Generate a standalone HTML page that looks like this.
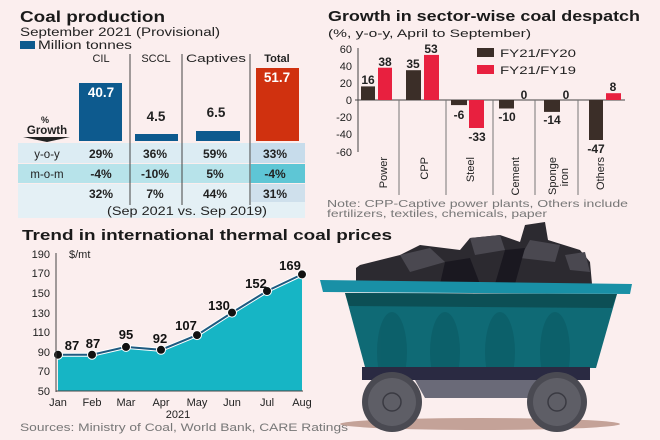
<!DOCTYPE html>
<html><head><meta charset="utf-8"><style>
html,body{margin:0;padding:0;background:#fbeeee;}
svg{display:block;font-family:"Liberation Sans",sans-serif;}
</style></head><body>
<svg width="660" height="440" viewBox="0 0 660 440" xmlns="http://www.w3.org/2000/svg">
<rect width="660" height="440" fill="#fbeeee"/>
<!-- LEFT TOP -->
<text x="20" y="22" font-size="16" font-weight="bold" fill="#1a1a1a" textLength="145" lengthAdjust="spacingAndGlyphs">Coal production</text>
<text x="20" y="36" font-size="11.5" fill="#222" textLength="200" lengthAdjust="spacingAndGlyphs">September 2021 (Provisional)</text>
<rect x="20" y="41" width="15" height="8" fill="#0d5a8e"/>
<text x="38" y="49" font-size="11.5" fill="#222" textLength="94" lengthAdjust="spacingAndGlyphs">Million tonnes</text>
<g font-size="11" fill="#222" text-anchor="middle">
<text x="101" y="62">CIL</text><text x="156" y="62">SCCL</text><text x="216" y="62" textLength="60" lengthAdjust="spacingAndGlyphs">Captives</text>
<text x="277" y="62" font-weight="bold">Total</text></g>
<rect x="18" y="143" width="287" height="20" fill="#dcecf3"/>
<rect x="251" y="143" width="54" height="20" fill="#c7dceb"/>
<rect x="18" y="164" width="287" height="19" fill="#b7e3ea"/>
<rect x="251" y="164" width="54" height="19" fill="#5ec6d5"/>
<rect x="18" y="184" width="287" height="34" fill="#e4f0f5"/>
<rect x="251" y="184" width="54" height="18" fill="#cfe0ec"/>
<g stroke="#444" stroke-width="1"><line x1="130" y1="54" x2="130" y2="205"/><line x1="182" y1="54" x2="182" y2="205"/><line x1="250" y1="54" x2="250" y2="205"/></g>
<rect x="79" y="83" width="43" height="58" fill="#0d5a8e"/>
<rect x="135" y="134" width="43" height="7" fill="#0d5a8e"/>
<rect x="196" y="131" width="44" height="10" fill="#0d5a8e"/>
<rect x="256" y="68" width="43" height="73" fill="#d0310f"/>
<g font-size="13.5" font-weight="bold" text-anchor="middle">
<text x="101" y="97" fill="#fff">40.7</text><text x="156" y="121" fill="#222">4.5</text>
<text x="216" y="117" fill="#222">6.5</text><text x="277" y="82" fill="#fff">51.7</text></g>
<text x="45" y="123" font-size="9" font-weight="bold" text-anchor="middle" fill="#222">%</text>
<text x="47" y="134" font-size="11.5" font-weight="bold" text-anchor="middle" fill="#222">Growth</text>
<path d="M23 137 L70 137 L47 142 Z" fill="#222"/>
<g font-size="11.5" fill="#222" text-anchor="middle"><text x="47" y="158">y-o-y</text><text x="47" y="178">m-o-m</text></g>
<g font-size="12" font-weight="bold" fill="#222" text-anchor="middle">
<text x="101" y="158">29%</text><text x="155" y="158">36%</text><text x="215" y="158">59%</text><text x="275" y="158">33%</text>
<text x="101" y="178">-4%</text><text x="155" y="178">-10%</text><text x="215" y="178">5%</text><text x="275" y="178">-4%</text>
<text x="101" y="198">32%</text><text x="155" y="198">7%</text><text x="215" y="198">44%</text><text x="275" y="198">31%</text></g>
<text x="187" y="215" font-size="11.5" fill="#222" text-anchor="middle" textLength="160" lengthAdjust="spacingAndGlyphs">(Sep 2021 vs. Sep 2019)</text>
<!-- RIGHT TOP -->
<text x="328" y="21" font-size="15" font-weight="bold" fill="#1a1a1a" textLength="312" lengthAdjust="spacingAndGlyphs">Growth in sector-wise coal despatch</text>
<text x="328" y="37" font-size="11" fill="#222" textLength="203" lengthAdjust="spacingAndGlyphs">(%, y-o-y, April to September)</text>
<g font-size="11" fill="#222" text-anchor="end">
<text x="352" y="53">60</text><text x="352" y="70">40</text><text x="352" y="87">20</text><text x="352" y="104">0</text>
<text x="352" y="121">-20</text><text x="352" y="138">-40</text><text x="352" y="156">-60</text></g>
<line x1="358" y1="48" x2="358" y2="152" stroke="#444"/>
<line x1="355" y1="100" x2="625" y2="100" stroke="#444"/>
<g stroke="#777"><line x1="399" y1="100" x2="399" y2="195"/><line x1="446" y1="100" x2="446" y2="195"/><line x1="493" y1="100" x2="493" y2="195"/><line x1="535" y1="100" x2="535" y2="195"/><line x1="578" y1="100" x2="578" y2="195"/></g>
<g fill="#3b2e28"><rect x="361" y="86.4" width="14" height="13.6"/><rect x="406" y="70.2" width="15" height="29.8"/>
<rect x="451" y="100" width="16" height="5.1"/><rect x="499" y="100" width="15" height="8.5"/><rect x="544" y="100" width="16" height="11.9"/><rect x="589" y="100" width="14" height="40"/></g>
<g fill="#e8203f"><rect x="378" y="67.7" width="14" height="32.3"/><rect x="424" y="54.9" width="15" height="45.1"/>
<rect x="469" y="100" width="15" height="28"/><rect x="606" y="93.2" width="15" height="6.8"/></g>
<g font-size="12" font-weight="bold" fill="#222" text-anchor="middle">
<text x="368" y="84">16</text><text x="385" y="66">38</text><text x="413" y="68">35</text><text x="431" y="53">53</text>
<text x="459" y="119">-6</text><text x="477" y="141">-33</text><text x="507" y="121">-10</text><text x="524" y="99">0</text>
<text x="552" y="124">-14</text><text x="566" y="99">0</text><text x="596" y="153">-47</text><text x="613" y="91">8</text></g>
<rect x="477" y="48" width="17" height="9" fill="#3b2e28"/><text x="500" y="57" font-size="11" fill="#222" textLength="76" lengthAdjust="spacingAndGlyphs">FY21/FY20</text>
<rect x="477" y="65" width="17" height="9" fill="#e8203f"/><text x="500" y="74" font-size="11" fill="#222" textLength="76" lengthAdjust="spacingAndGlyphs">FY21/FY19</text>
<g font-size="11" fill="#222" text-anchor="end">
<text transform="translate(387,157) rotate(-90)">Power</text>
<text transform="translate(428,157) rotate(-90)">CPP</text>
<text transform="translate(474,157) rotate(-90)">Steel</text>
<text transform="translate(519,157) rotate(-90)">Cement</text>
<text transform="translate(556,157) rotate(-90)">Sponge</text>
<text transform="translate(568,168) rotate(-90)">iron</text>
<text transform="translate(604,157) rotate(-90)">Others</text></g>
<text x="327" y="207" font-size="10.5" fill="#777" textLength="301" lengthAdjust="spacingAndGlyphs">Note: CPP-Captive power plants, Others include</text>
<text x="327" y="217" font-size="10.5" fill="#777" textLength="220" lengthAdjust="spacingAndGlyphs">fertilizers, textiles, chemicals, paper</text>
<!-- BOTTOM LEFT -->
<text x="22" y="240" font-size="15" font-weight="bold" fill="#1a1a1a" textLength="370" lengthAdjust="spacingAndGlyphs">Trend in international thermal coal prices</text>
<g font-size="11" fill="#222" text-anchor="end">
<text x="50" y="258">190</text><text x="50" y="277">170</text><text x="50" y="297">150</text><text x="50" y="317">130</text>
<text x="50" y="336">110</text><text x="50" y="356">90</text><text x="50" y="375">70</text><text x="50" y="395">50</text></g>
<text x="69" y="258" font-size="11" fill="#222">$/mt</text>
<path d="M58 354.7 L92 354.7 L126 346.9 L161 349.8 L197 335.1 L232 312.6 L267 291 L302 274.4 L302 391 L58 391 Z" fill="#16b5c5"/>
<polyline points="58,354.7 92,354.7 126,346.9 161,349.8 197,335.1 232,312.6 267,291 302,274.4" fill="none" stroke="#fff" stroke-width="4"/>
<polyline points="58,354.7 92,354.7 126,346.9 161,349.8 197,335.1 232,312.6 267,291 302,274.4" fill="none" stroke="#1e5a80" stroke-width="2"/>
<g fill="#111" stroke="#fff" stroke-width="1"><circle cx="58" cy="354.7" r="4.5"/><circle cx="92" cy="354.7" r="4.5"/><circle cx="126" cy="346.9" r="4.5"/><circle cx="161" cy="349.8" r="4.5"/><circle cx="197" cy="335.1" r="4.5"/><circle cx="232" cy="312.6" r="4.5"/><circle cx="267" cy="291" r="4.5"/><circle cx="302" cy="274.4" r="4.5"/></g>
<line x1="56" y1="253" x2="56" y2="392" stroke="#444"/>
<line x1="56" y1="391" x2="303" y2="391" stroke="#444"/>
<g font-size="13" font-weight="bold" fill="#111" text-anchor="middle">
<text x="72" y="350">87</text><text x="93" y="348">87</text><text x="126" y="339">95</text><text x="160" y="343">92</text>
<text x="186" y="330">107</text><text x="219" y="310">130</text><text x="256" y="288">152</text><text x="290" y="270">169</text></g>
<g font-size="11" fill="#222" text-anchor="middle">
<text x="58" y="406">Jan</text><text x="92" y="406">Feb</text><text x="126" y="406">Mar</text><text x="161" y="406">Apr</text>
<text x="197" y="406">May</text><text x="232" y="406">Jun</text><text x="267" y="406">Jul</text><text x="302" y="406">Aug</text>
<text x="178" y="418">2021</text></g>
<text x="20" y="431" font-size="11" fill="#777" textLength="328" lengthAdjust="spacingAndGlyphs">Sources: Ministry of Coal, World Bank, CARE Ratings</text>
<!-- CART -->
<ellipse cx="480" cy="424" rx="140" ry="6" fill="#c4a298"/>
<g fill="#2c2a30">
<polygon points="356,268 360,265 400,255 420,245 460,250 470,238 500,235 520,242 525,225 545,222 548,240 580,250 590,262 592,284 356,284"/>
</g>
<g fill="#4a4850"><polygon points="400,255 430,248 445,262 410,272"/><polygon points="470,238 500,235 505,250 475,255"/><polygon points="530,240 560,245 555,262 520,258"/><polygon points="565,255 585,252 590,272 570,270"/></g>
<g fill="#1a1820"><polygon points="445,262 470,258 480,284 440,284"/><polygon points="505,250 525,248 515,284 495,284"/></g>
<polygon points="320,280 632,284 630,294 323,292" fill="#1990a6"/>
<polygon points="345,293 617,294 596,368 365,367" fill="#0f6a75"/>
<polygon points="345,293 617,294 612,308 349,306" fill="#0c4f55"/>
<g fill="#0c5e68" opacity="0.8"><ellipse cx="392" cy="352" rx="15" ry="40"/><ellipse cx="445" cy="352" rx="15" ry="40"/><ellipse cx="500" cy="352" rx="15" ry="40"/><ellipse cx="555" cy="352" rx="15" ry="40"/></g>
<rect x="362" y="367" width="228" height="13" fill="#2a2a42"/>
<polygon points="415,380 540,380 530,398 425,398" fill="#6a6a78"/>
<circle cx="392" cy="402" r="30" fill="#4a4a52"/><circle cx="392" cy="402" r="24" fill="#5e5e66"/><circle cx="392" cy="402" r="9" fill="none" stroke="#3a3a42" stroke-width="1.5"/>
<circle cx="557" cy="402" r="30" fill="#4a4a52"/><circle cx="557" cy="402" r="24" fill="#5e5e66"/><circle cx="557" cy="402" r="9" fill="none" stroke="#3a3a42" stroke-width="1.5"/>
</svg>
</body></html>
